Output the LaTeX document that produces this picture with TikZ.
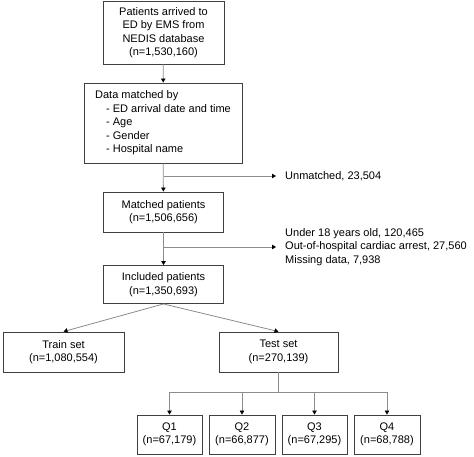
\documentclass[tikz,border=0pt]{standalone}
\usepackage{fontspec}
\setmainfont{Liberation Sans}
\usetikzlibrary{arrows.meta}
\begin{document}
\begin{tikzpicture}[x=1pt,y=-1pt,
		box/.style={draw=black!75,line width=.9pt,inner sep=0pt,align=center,font=\fontsize{11}{13.5}\selectfont},
		conn/.style={draw=black!45,line width=.8pt,-{Triangle[color=black,length=4pt,width=4.5pt]}},
		txt/.style={anchor=west,inner sep=0pt,align=left,font=\fontsize{11}{13.5}\selectfont}]
	\fill[white] (0,0) rectangle (474,456);
	\useasboundingbox (0,0) rectangle (474,456);
	% main column
	\node[box,minimum width=121,minimum height=63] (src) at (163.5,32.5) {Patients arrived to\\ED by EMS from\\NEDIS database\\(n=1,530,160)};
	\node[box,align=left,minimum width=158,minimum height=80] (crit) at (163,123) {Data matched by\\\hspace*{11pt}- ED arrival date and time\\\hspace*{11pt}- Age\\\hspace*{11pt}- Gender\\\hspace*{11pt}- Hospital name};
	\node[box,minimum width=120,minimum height=40] (matched) at (163.5,212) {Matched patients\\(n=1,506,656)};
	\node[box,minimum width=120,minimum height=38] (incl) at (163.5,284.5) {Included patients\\(n=1,350,693)};
	% split
	\node[box,minimum width=121,minimum height=40] (train) at (63.5,352) {Train set\\(n=1,080,554)};
	\node[box,minimum width=119,minimum height=40] (test) at (278.5,352) {Test set\\(n=270,139)};
	\node[box,minimum width=65,minimum height=39] (q1) at (169.5,434.5) {Q1\\(n=67,179)};
	\node[box,minimum width=66,minimum height=39] (q2) at (242,434.5) {Q2\\(n=66,877)};
	\node[box,minimum width=65,minimum height=39] (q3) at (314.5,434.5) {Q3\\(n=67,295)};
	\node[box,minimum width=66,minimum height=39] (q4) at (387,434.5) {Q4\\(n=68,788)};
	% exclusions
	\node[txt] (ex1) at (285,176) {Unmatched, 23,504};
	\node[txt] (ex2) at (285,247) {Under 18 years old, 120,465\\Out-of-hospital cardiac arrest, 27,560\\Missing data, 7,938};
	\coordinate (b1) at (163.5,176);
	\coordinate (b2) at (163.5,247);
	\coordinate (sp) at (278.5,392);
	\draw[conn] (src) -- (crit);
	\draw[conn] (crit) -- (matched);
	\draw[conn] (matched) -- (incl);
	\draw[conn] (b1) -- ([xshift=-9pt]ex1.west);
	\draw[conn] (b2) -- ([xshift=-9pt]ex2.west);
	\draw[conn] (incl.south) -- (train.north);
	\draw[conn] (incl.south) -- (test.north);
	\draw[draw=black!45,line width=.8pt] (test) -- (sp);
	\foreach \q in {q1,q2,q3,q4}
		\draw[conn] (sp) -| (\q.north);
\end{tikzpicture}
\end{document}
